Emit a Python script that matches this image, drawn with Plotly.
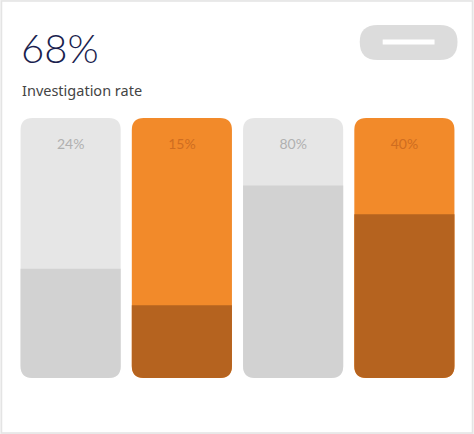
import plotly.graph_objects as go

W, H = 474, 434
labels = ["24%", "15%", "80%", "40%"]
fill_pct = [42, 28, 74, 63]
bg_colors = ["#e6e6e6", "#f28a2a", "#e6e6e6", "#f28a2a"]
fill_colors = ["#d2d2d2", "#b5631f", "#d2d2d2", "#b5631f"]
text_colors = ["#b0b0b0", "#cf6d20", "#b0b0b0", "#cf6d20"]

L, R, T, B = 14.5, 13.5, 118, 56
pw, ph = W - L - R, H - T - B
bw = 0.9
rx = 12 / (pw / 4)
ry = 12 / ph * 100


def rrect(x0, x1, y0, y1, top=True, bottom=True):
    tr = ry if top else 0
    br = ry if bottom else 0
    txr = rx if top else 0
    bxr = rx if bottom else 0
    return (f"M {x0+bxr},{y0} L {x1-bxr},{y0} Q {x1},{y0} {x1},{y0+br} "
            f"L {x1},{y1-tr} Q {x1},{y1} {x1-txr},{y1} L {x0+txr},{y1} "
            f"Q {x0},{y1} {x0},{y1-tr} L {x0},{y0+br} Q {x0},{y0} {x0+bxr},{y0} Z")


def px_x(p):
    return (p - L) / pw


def px_y(p):
    return (H - B - p) / ph


shapes = [
    # card outline
    dict(type="rect", xref="paper", yref="paper", x0=px_x(1), x1=px_x(473),
         y0=px_y(433), y1=px_y(1), line=dict(color="#e4e4e4", width=1.5),
         fillcolor="white", layer="below"),
    # pill
    dict(type="path", xref="paper", yref="paper", layer="below",
         path=f"M {px_x(378)},{px_y(25)} L {px_x(440)},{px_y(25)} "
              f"Q {px_x(458)},{px_y(25)} {px_x(458)},{px_y(42)} "
              f"Q {px_x(458)},{px_y(60)} {px_x(440)},{px_y(60)} "
              f"L {px_x(378)},{px_y(60)} Q {px_x(360)},{px_y(60)} {px_x(360)},{px_y(42)} "
              f"Q {px_x(360)},{px_y(25)} {px_x(378)},{px_y(25)} Z",
         fillcolor="#dcdcdc", line=dict(width=0)),
    dict(type="line", xref="paper", yref="paper", x0=px_x(383), x1=px_x(435),
         y0=px_y(42), y1=px_y(42), line=dict(color="white", width=5), layer="below"),
]
for i, (f, bg, fc) in enumerate(zip(fill_pct, bg_colors, fill_colors)):
    x0, x1 = i - bw / 2, i + bw / 2
    shapes.append(dict(type="path", xref="x", yref="y", path=rrect(x0, x1, 0, 100),
                       fillcolor=bg, line=dict(width=0), layer="below"))
    shapes.append(dict(type="path", xref="x", yref="y",
                       path=rrect(x0, x1, 0, f, top=False),
                       fillcolor=fc, line=dict(width=0), layer="below"))

fig = go.Figure(go.Scatter(
    x=list(range(len(labels))), y=[89.5] * len(labels), mode="text", text=labels,
    textfont=dict(family="Lato, Noto Sans, sans-serif", size=14, color=text_colors),
    hoverinfo="skip"))

fig.update_layout(
    width=W, height=H, margin=dict(l=L, r=R, t=T, b=B),
    paper_bgcolor="#f4f4f4", plot_bgcolor="rgba(0,0,0,0)", showlegend=False,
    shapes=shapes,
    xaxis=dict(range=[-0.5, 3.5], visible=False, fixedrange=True),
    yaxis=dict(range=[0, 100], visible=False, fixedrange=True),
    annotations=[
        dict(text="68%", xref="paper", yref="paper", x=px_x(19), y=px_y(48),
             xanchor="left", yanchor="middle", showarrow=False,
             font=dict(family="Lato, Noto Sans, sans-serif", size=40, color="#1b1f4f",
                       weight=300)),
        dict(text="Investigation rate", xref="paper", yref="paper", x=px_x(20), y=px_y(90),
             xanchor="left", yanchor="middle", showarrow=False,
             font=dict(family="Noto Sans, sans-serif", size=14.5, color="#444444")),
    ],
)
fig.write_html("out.html", config={"displayModeBar": False},
               post_script="document.body.style.margin='0';")
